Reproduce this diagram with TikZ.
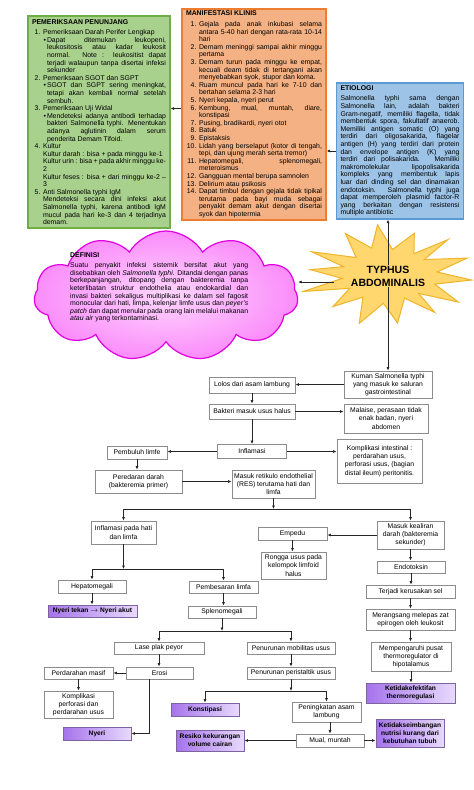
\documentclass[tikz,border=0pt]{standalone}
\usepackage{fontspec}
\setmainfont{Liberation Sans}
\usepackage{enumitem}
\usepackage{tikz}
\usetikzlibrary{arrows.meta, shapes.symbols, calc, positioning}
\usepackage[x11names, svgnames, rgb]{xcolor}

\definecolor{pgreen}{RGB}{169,209,142}
\definecolor{pgreenline}{RGB}{112,173,71}
\definecolor{porange}{RGB}{244,177,131}
\definecolor{porangeline}{RGB}{237,125,49}
\definecolor{pblue}{RGB}{157,195,230}
\definecolor{pblueline}{RGB}{91,155,213}
\definecolor{cloudin}{RGB}{255,215,255}
\definecolor{cloudout}{RGB}{250,140,250}
\definecolor{cloudline}{RGB}{225,0,225}
\definecolor{staryellow}{RGB}{255,215,110}
\definecolor{stargold}{RGB}{240,180,40}
\definecolor{purpdark}{RGB}{165,115,235}
\definecolor{purplight}{RGB}{232,218,253}
\definecolor{purpline}{RGB}{125,100,160}
\definecolor{boxgray}{RGB}{140,140,140}

\setlength{\parindent}{0pt}
\hyphenpenalty=10000
\exhyphenpenalty=50
\emergencystretch=20pt
\SetEnumitemKey{numlist}{label=\arabic*., leftmargin=11pt, labelsep=2.5pt, nosep}
\SetEnumitemKey{dotlist}{label=\textbullet, leftmargin=4pt, labelsep=1pt, nosep}

\begin{document}
\begin{tikzpicture}[
		x=1pt, y=-1pt,
		every node/.style={
				font=\fontsize{6.9}{7.6}\selectfont,
				inner sep=1pt
			},
		panel/.style={
				line width=1.2pt,
				inner xsep=4pt,
				inner ysep=2pt,
				align=justify
			},
		flowbox/.style={draw=boxgray, line width=0.8pt, fill=white, align=center,
				font=\fontsize{6.8}{8.2}\selectfont},
		diagbox/.style={
				draw=purpline, line width=0.8pt,
				left color=purpdark, right color=purplight,
				align=center,
				font=\fontsize{6.6}{8.2}\selectfont\bfseries
			},
		sz/.style 2 args={minimum width=#1pt, minimum height=#2pt},
		arr/.style={-{Latex[length=3.5pt,width=3pt]}, line width=0.8pt, draw=black!85}
	]
	\fill[white] (0,0) rectangle (474,790);
	\useasboundingbox (0,0) rectangle (474,790);

	% panels on top
	\node[panel, draw=pgreenline, fill=pgreen, text width=134pt, minimum height=212pt] (penunjang) at (99,122) {%
		\textbf{PEMERIKSAAN PENUNJANG}\par\vspace{3pt}
		\begin{enumerate}[numlist]
			\item Pemeriksaan Darah Perifer Lengkap
			      \begin{itemize}[dotlist]
				      \item Dapat ditemukan leukopeni, leukositosis atau kadar leukosit normal. Note : leukositist dapat terjadi walaupun tanpa disertai infeksi sekunder
			      \end{itemize}
			\item Pemeriksaan SGOT dan SGPT
			      \begin{itemize}[dotlist]
				      \item SGOT dan SGPT sering meningkat, tetapi akan kembali normal setelah sembuh.
			      \end{itemize}
			\item Pemeriksaan Uji Widal
			      \begin{itemize}[dotlist]
				      \item Mendeteksi adanya antibodi terhadap bakteri Salmonella typhi. Menentukan adanya aglutinin dalam serum penderita Demam Tifoid.
			      \end{itemize}
			\item Kultur\par
			      Kultur darah : bisa + pada minggu ke-1\par
			      Kultur urin : bisa + pada akhir minggu ke-2\par
			      Kultur feses : bisa + dari minggu ke-2 -- 3
			\item Anti Salmonella typhi IgM\par
			      Mendeteksi secara dini infeksi akut Salmonella typhi, karena antibodi IgM mucul pada hari ke-3 dan 4 terjadinya demam.
		\end{enumerate}};

	\node[panel, draw=porangeline, fill=porange, text width=136pt, minimum height=203pt] (manifestasi) at (254,114.5) {%
		\textbf{MANIFESTASI KLINIS}\par\vspace{3pt}
		\begin{enumerate}[numlist, leftmargin=13pt]
			\item Gejala pada anak inkubasi selama antara 5-40 hari dengan rata-rata 10-14 hari
			\item Demam meninggi sampai akhir minggu pertama
			\item Demam turun pada minggu ke empat, kecuali deam tidak di tertangani akan menyebabkan syok, stupor dan koma.
			\item Ruam muncul pada hari ke 7-10 dan bertahan selama 2-3 hari
			\item Nyeri kepala, nyeri perut
			\item Kembung, mual, muntah, diare, konstipasi
			\item Pusing, bradikardi, nyeri otot
			\item Batuk
			\item Epistaksis
			\item Lidah yang berselaput (kotor di tengah, tepi, dan ujung merah serta tremor)
			\item Hepatomegali, splenomegali, meteroismus
			\item Gangguan mental berupa samnolen
			\item Delirium atau psikosis
			\item Dapat timbul dengan gejala tidak tipikal terutama pada bayi muda sebagai penyakit demam akut dengan disertai syok dan hipotermia
		\end{enumerate}};

	\node[panel, draw=pblueline, fill=pblue, text width=119pt, minimum height=136pt] (etiologi) at (400,151) {%
		\textbf{ETIOLOGI}\par\vspace{3pt}
		Salmonella typhi sama dengan Salmonella lain, adalah bakteri Gram-negatif, memiliki flagella, tidak membentuk spora, fakultatif anaerob. Memiliki antigen somatic (O) yang terdiri dari oligosakarida, flagelar antigen (H) yang terdiri dari protein dan envelope antigen (K) yang terdiri dari polisakarida. Memiliki makromolekular lipopolisakarida kompleks yang membentuk lapis luar dari dinding sel dan dinamakan endotoksin. Salmonella typhi juga dapat memperoleh plasmid factor-R yang berkaitan dengan resistensi multiple antibiotic};

	\draw[arr] ([yshift=6pt]manifestasi.west) -- ([yshift=6pt]manifestasi.west -| penunjang.east);
	\draw[arr] (etiologi.west) -- (etiologi.west -| manifestasi.east);

	% definisi cloud
	\node[cloud, cloud puffs=11, cloud puff arc=120, aspect=2.1,
		draw=cloudline, line width=1.2pt, inner color=cloudin, outer color=cloudout,
		minimum width=264pt, minimum height=130pt] (defcloud) at (166,296) {};
	\node[text width=178pt, align=justify, anchor=north west] (definisi) at (69,251) {%
		\textbf{DEFINISI}\par\vspace{3pt}
		Suatu penyakit infeksi sistemik bersifat akut yang disebabkan oleh \textit{Salmonella typhi}. Ditandai dengan panas berkepanjangan, ditopang dengan bakteremia tanpa keterlibatan struktur endothelia atau endokardial dan invasi bakteri sekaligus multiplikasi ke dalam sel fagosit monocular dari hati, limpa, kelenjar limfe usus dan \textit{peyer's patch} dan dapat menular pada orang lain melalui makanan \textit{atau air} yang terkontaminasi.};

	% star
	\draw[draw=stargold, line width=1pt, fill=staryellow]
	plot[samples at={0,1,...,27}, variable=\k]
	({388+(84+6*sin(\k*97))*(1-0.45*mod(\k,2))*cos(\k*360/28+6)},
	{275+(48+4*sin(\k*61))*(1-0.45*mod(\k,2))*sin(\k*360/28+6)}) -- cycle;
	\node[font=\fontsize{10.5}{13}\selectfont\bfseries, align=center] (typhus) at (388,276) {TYPHUS\\ABDOMINALIS};
	\coordinate (starw) at (334,282);

	\draw[arr] (typhus.north) -- (typhus.north |- etiologi.south);
	\draw[arr] (starw) -- (starw -| defcloud.east);

	% flow
	\node[flowbox, sz={88}{27}] (kuman) at (388,384.5) {Kuman Salmonella typhi\\yang masuk ke saluran\\gastrointestinal};
	\node[flowbox, sz={86}{16}] (lolos) at (252,385) {Lolos dari asam lambung};
	\node[flowbox, sz={86}{15}] (bakteri) at (252,411.5) {Bakteri masuk usus halus};
	\node[flowbox, sz={84}{29}] (malaise) at (386,418.5) {Malaise, perasaan tidak\\enak badan, nyeri\\abdomen};
	\node[flowbox, sz={69}{14}] (inflamasi) at (252,451.5) {Inflamasi};
	\node[flowbox, sz={85}{44}] (komplikasi) at (379.5,461) {Komplikasi intestinal :\\perdarahan usus,\\perforasi usus, (bagian\\distal ileum) peritonitis.};
	\node[flowbox, sz={60}{13}] (pembuluh) at (137,452.5) {Pembuluh limfe};
	\node[flowbox, sz={87}{23}] (peredaran) at (138.5,481.5) {Peredaran darah\\(bakteremia primer)};
	\node[flowbox, sz={83}{28}] (masukres) at (273.5,484) {Masuk retikulo endothelial\\(RES) terutama hati dan\\limfa};
	\node[flowbox, sz={65}{23}] (inflhati) at (123.5,532.5) {Inflamasi pada hati\\dan limfa};
	\node[flowbox, sz={67}{28}] (kealiran) at (410.5,535) {Masuk kealiran\\darah (bakteremia\\sekunder)};
	\node[flowbox, sz={69}{13}] (empedu) at (292.5,533.5) {Empedu};
	\node[flowbox, sz={65}{27}] (rongga) at (293.5,565.5) {Rongga usus pada\\kelompok limfoid\\halus};
	\node[flowbox, sz={68}{13}] (hepato) at (92,586.5) {Hepatomegali};
	\node[flowbox, sz={69}{12}] (pembesaran) at (223.5,587) {Pembesaran limfa};
	\node[diagbox, sz={89}{12}] (nyeritekan) at (92.5,611) {Nyeri tekan $\rightarrow$ Nyeri akut};
	\node[flowbox, sz={68}{12}] (spleno) at (222,612) {Splenomegali};
	\node[flowbox, sz={90}{12}] (lase) at (159,648) {Lase plak peyor};
	\node[flowbox, sz={88}{12}] (mobilitas) at (291,648) {Penurunan mobilitas usus};
	\node[flowbox, sz={67}{12}] (erosi) at (159.5,673) {Erosi};
	\node[flowbox, sz={69}{12}] (masif) at (78.5,673) {Perdarahan masif};
	\node[flowbox, sz={88}{12}] (peristaltik) at (291,673) {Penurunan peristaltik usus};
	\node[flowbox, sz={69}{27}] (kompperf) at (78.5,704.5) {Komplikasi\\perforasi dan\\perdarahan usus};
	\node[diagbox, sz={68}{13}] (nyeri) at (97,733.5) {Nyeri};
	\node[diagbox, sz={68}{13}] (konstipasi) at (205,709.5) {Konstipasi};
	\node[flowbox, sz={69}{20}] (peningkatan) at (326.5,712) {Peningkatan asam\\lambung};
	\node[flowbox, sz={68}{13}] (mual) at (330,740.5) {Mual, muntah};
	\node[diagbox, sz={68}{21}] (resiko) at (210,740.5) {Resiko kekurangan\\volume cairan};
	\node[diagbox, sz={68}{28}] (seimbang) at (410,733) {Ketidakseimbangan\\nutrisi kurang dari\\kebutuhan tubuh};
	\node[flowbox, sz={68}{12}] (endotoksin) at (411,567) {Endotoksin};
	\node[flowbox, sz={89}{13}] (kerusakan) at (410.5,591.5) {Terjadi kerusakan sel};
	\node[flowbox, sz={89}{21}] (merangsang) at (410.5,619.5) {Merangsang melepas zat\\epirogen oleh leukosit};
	\node[flowbox, sz={80}{29}] (pusat) at (411,656.5) {Mempengaruhi pusat\\thermoregulator di\\hipotalamus};
	\node[diagbox, sz={89}{20}] (efektif) at (410.5,693) {Ketidakefektifan\\thermoregulasi};

	\coordinate (bus1) at (273.5,509);
	\coordinate (bus2) at (123.5,569);
	\coordinate (bus3) at (222,631);
	\coordinate (bus4) at (291,691);

	\draw[arr] (typhus.south) -- (typhus.south |- kuman.north);
	\draw[arr] (kuman.west) -- (kuman.west -| lolos.east);
	\draw[arr] (lolos) -- (bakteri);
	\draw[arr] (bakteri.east) -- (bakteri.east -| malaise.west);
	\draw[arr] (bakteri) -- (inflamasi);
	\draw[arr] (inflamasi.east) -- (inflamasi.east -| komplikasi.west);
	\draw[arr] (inflamasi.west) -- (inflamasi.west -| pembuluh.east);
	\draw[arr] (pembuluh.south) -- (pembuluh.south |- peredaran.north);
	\draw[arr] (peredaran.east) -- (peredaran.east -| masukres.west);
	\draw[arr] (masukres.south) -- (bus1);
	\draw[arr] (bus1) -| (inflhati.north);
	\draw[arr] (bus1) -| (kealiran.north);
	\draw[arr] (kealiran.west) -- (kealiran.west -| empedu.east);
	\draw[arr] (empedu.south) -- (empedu.south |- rongga.north);
	\draw[arr] (inflhati.south) -- (bus2);
	\draw[arr] (bus2) -| (hepato.north);
	\draw[arr] (bus2) -| (pembesaran.north);
	\draw[arr] (hepato.south) -- (hepato.south |- nyeritekan.north);
	\draw[arr] (pembesaran.south) -- (pembesaran.south |- spleno.north);
	\draw[arr] (spleno.south) -- (bus3);
	\draw[arr] (bus3) -| (lase.north);
	\draw[arr] (bus3) -| (mobilitas.north);
	\draw[arr] (lase.south) -- (lase.south |- erosi.north);
	\draw[arr] (erosi.west) -- (erosi.west -| masif.east);
	\draw[arr] (masif.south) -- (masif.south |- kompperf.north);
	\draw[arr] ([xshift=-10pt]erosi.south) |- (nyeri.east);
	\draw[arr] (mobilitas.south) -- (mobilitas.south |- peristaltik.north);
	\draw[arr] (peristaltik.south) -- (bus4);
	\draw[arr] (bus4) -| (konstipasi.north);
	\draw[arr] (bus4) -| (peningkatan.north);
	\draw[arr] (mual.north |- peningkatan.south) -- (mual.north);
	\draw[arr] (mual.west) -- (mual.west -| resiko.east);
	\draw[arr] (mual.east) -- (mual.east -| seimbang.west);
	\draw[arr] (kealiran.south) -- (kealiran.south |- endotoksin.north);
	\draw[arr] (endotoksin.south) -- (endotoksin.south |- kerusakan.north);
	\draw[arr] (kerusakan.south) -- (kerusakan.south |- merangsang.north);
	\draw[arr] (merangsang.south) -- (merangsang.south |- pusat.north);
	\draw[arr] (pusat.south) -- (pusat.south |- efektif.north);
\end{tikzpicture}
\end{document}
